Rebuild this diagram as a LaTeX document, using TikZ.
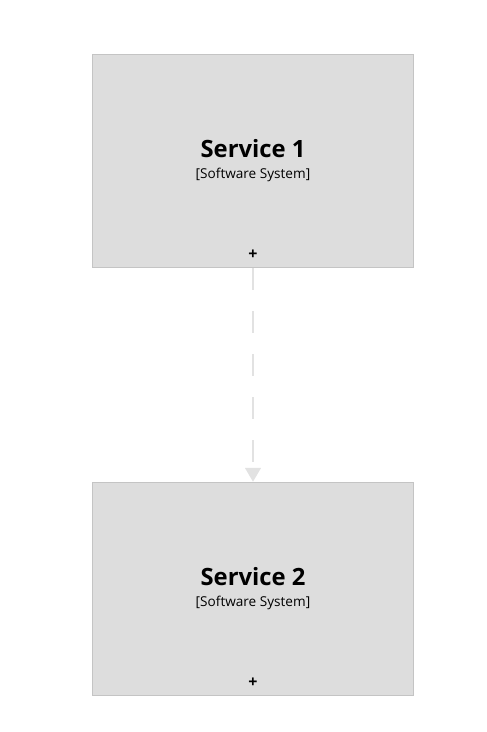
\documentclass[tikz,border=0pt]{standalone}
\usepackage{fontspec}
\setmainfont{Open Sans}
\usetikzlibrary{arrows.meta}
\definecolor{boxfill}{HTML}{DDDDDD}
\definecolor{boxline}{HTML}{C4C4C4}
\definecolor{relline}{HTML}{E2E2E2}
\tikzset{
  system/.style={draw=boxline, line width=1.5pt, fill=boxfill, minimum width=321pt, minimum height=213pt, inner sep=0pt},
  title/.style={font=\bfseries\fontsize{23.8}{26}\selectfont, inner sep=0pt},
  kind/.style={font=\fontsize{13.6}{16}\selectfont, inner sep=0pt},
  plus/.style={font=\bfseries\fontsize{16}{16}\selectfont, inner sep=0pt},
  rel/.style={draw=relline, line width=1.5pt, dash pattern=on 22pt off 21pt, -{Triangle[width=16pt,length=14pt,fill=relline]}}
}
\begin{document}
\begin{tikzpicture}[x=1pt,y=-1pt]
\useasboundingbox (0,0) rectangle (487,732);
\node[system] (s1) at (253,161) {};
\node[title] (t1) at (253,149) {Service 1};
\node[kind] (k1) at (253,175) {[Software System]};
\node[plus] (p1) at (253,255) {+};
\node[system] (s2) at (253,589) {};
\node[title] (t2) at (253,577) {Service 2};
\node[kind] (k2) at (253,603) {[Software System]};
\node[plus] (p2) at (253,683) {+};
\draw[rel] (s1.south) -- (s2.north);
\end{tikzpicture}
\end{document}
